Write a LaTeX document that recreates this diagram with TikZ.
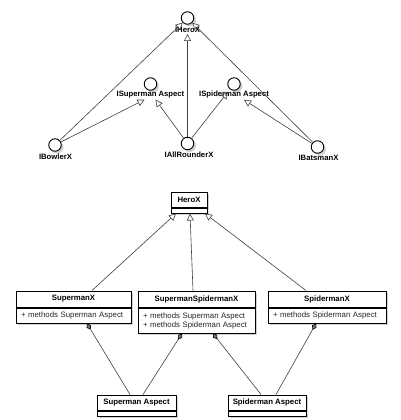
\documentclass[tikz,border=0pt]{standalone}
\usepackage{fontspec}
\setmainfont{Liberation Sans}
\usetikzlibrary{arrows.meta,shadows}
\tikzset{
  shad/.style={drop shadow={shadow xshift=2.2pt,shadow yshift=-2.2pt,fill=black!18,opacity=1}},
  iface/.style={circle,draw,line width=0.9pt,minimum size=12.5pt,inner sep=0pt,fill=white,shad},
  ilabel/.style={font=\fontsize{7.7}{8}\selectfont\bfseries,inner sep=1pt},
  realize/.style={draw=black!75,line width=0.6pt,-{Triangle[open,length=7pt,width=7pt]}},
  ctitle/.style={draw,line width=1pt,fill=white,font=\fontsize{7.8}{9}\selectfont\bfseries,inner sep=0pt,minimum height=16pt,shad},
  cbody/.style={draw,line width=1pt,fill=white,font=\fontsize{7.8}{9}\selectfont,text=black!85,inner xsep=5pt,inner ysep=0pt,anchor=north,align=left,shad},
  aggr/.style={draw=black!75,line width=0.6pt,{Diamond[length=7pt,width=5pt,fill=black!55,color=black]}-}
}
\begin{document}
\begin{tikzpicture}[x=1pt,y=-1pt]
\useasboundingbox[fill=white] (0,0) rectangle (400,420);
% ---- interfaces ----
\node[iface] (hero) at (187.5,18) {};
\node[ilabel] (heroL) at (187.5,30) {IHeroX};
\node[iface] (sa) at (150.5,84) {};
\node[ilabel] (saL) at (150.5,95) {ISuperman Aspect};
\node[iface] (spa) at (234,84) {};
\node[ilabel] (spaL) at (234,95) {ISpiderman Aspect};
\node[iface] (bow) at (55,145) {};
\node[ilabel] (bowL) at (55.5,157) {IBowlerX};
\node[iface] (all) at (187.5,143.5) {};
\node[ilabel] (allL) at (189,154.5) {IAllRounderX};
\node[iface] (bat) at (317.5,147) {};
\node[ilabel] (batL) at (318.5,158) {IBatsmanX};
\draw[realize] (bow) -- (hero);
\draw[realize] (bow) -- ([xshift=-6pt]saL.south);
\draw[realize] (all) -- ([xshift=5pt]saL.south);
\draw[realize] (all) -- (heroL.south);
\draw[realize] (all) -- ([xshift=-6pt,yshift=8pt]spaL.south);
\draw[realize] (bat) -- ([xshift=10pt]spaL.south);
\draw[realize] (bat) -- (hero);
% ---- classes ----
\node[ctitle,minimum width=36pt,minimum height=15.5pt] (hx) at (189,199.75) {HeroX};
\node[cbody,minimum width=36pt,minimum height=4.5pt] (hxb) at (hx.south) {};
\node[ctitle,minimum width=115pt] (sx) at (73.5,299) {SupermanX};
\node[cbody,text width=105pt,minimum height=15pt] (sxb) at (sx.south) {+ methods Superman Aspect};
\node[ctitle,minimum width=117pt] (ssx) at (196.5,299) {SupermanSpidermanX};
\node[cbody,text width=107pt,minimum height=25pt] (ssxb) at (ssx.south) {+ methods Superman Aspect\\+ methods Spiderman Aspect};
\node[ctitle,minimum width=118pt] (spx) at (327,299) {SpidermanX};
\node[cbody,text width=108pt,minimum height=15pt] (spxb) at (spx.south) {+ methods Spiderman Aspect};
\node[ctitle,minimum width=79pt,minimum height=15pt] (sas) at (136.5,402.5) {Superman Aspect};
\node[cbody,minimum width=79pt,minimum height=5pt] (sasb) at (sas.south) {};
\node[ctitle,minimum width=78pt,minimum height=15pt] (spas) at (267,402.5) {Spiderman Aspect};
\node[cbody,minimum width=78pt,minimum height=5pt] (spasb) at (spas.south) {};
% generalisations
\draw[realize] ([xshift=18.5pt]sx.north) -- ([xshift=-13pt]hxb.south);
\draw[realize] ([xshift=-3.5pt]ssx.north) -- ([xshift=1pt]hxb.south);
\draw[realize] ([xshift=-21pt]spx.north) -- ([xshift=16pt]hxb.south);
% aggregations
\draw[aggr] ([xshift=13.5pt]sxb.south) -- ([xshift=-6.5pt]sas.north);
\draw[aggr] ([xshift=-14.5pt]ssxb.south) -- ([xshift=6.5pt]sas.north);
\draw[aggr] ([xshift=16.5pt]ssxb.south) -- ([xshift=-6pt]spas.north);
\draw[aggr] ([xshift=-11pt]spxb.south) -- ([xshift=9pt]spas.north);
\end{tikzpicture}
\end{document}
